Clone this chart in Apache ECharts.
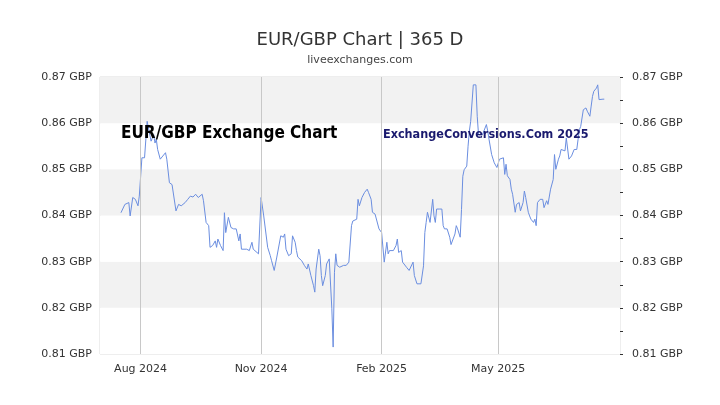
<!DOCTYPE html>
<html><head><meta charset="utf-8">
<script src="https://cdn.jsdelivr.net/npm/echarts@6/dist/echarts.min.js"></script>
<style>html,body{margin:0;padding:0;background:#fff}#c{width:720px;height:405px}</style>
</head><body><div id="c"></div>
<script>
// day offsets from 2024-07-17
const days = [0,3,6,7,9,11,13,14,16,18,20,21,23,25,26,27,28,30,31,34,35,37,39,40,42,44,46,49,51,53,55,57,59,60,62,63,65,67,68,70,72,73,74,76,78,79,80,82,84,86,88,90,91,92,93,96,98,100,101,102,105,107,109,110,112,114,115,117,119,
120,122,124,125,126,128,130,131,133,134,135,138,140,142,143,144,145,147,148,149,151,152,153,154,156,157,159,161,162,163,164,165,167,170,172,174,176,177,180,181,182,184,185,186,188,189,191,192,194,195,197,199,200,201,203,204,205,208,210,211,212,214,215,218,219,220,223,224,226,229,231,232,233,234,236,238,239,240,241,243,245,246,247,249,251,
252,253,255,256,257,259,260,261,262,264,265,266,267,269,271,272,273,276,279,280,281,283,284,285,287,288,289,290,292,293,294,295,297,298,299,301,302,304,305,306,307,308,309,311,312,313,315,316,317,318,320,321,322,323,325,326,327,328,330,331,332,334,335,336,337,339,340,341,342,344,345,346,348,349,350,351,353,355,356,358,359,360,361,363,364,365,368,369];
const rates = [.8406,.8424,.8428,.8399,.8439,.8435,.8421,.8442,.8525,.8525,.8604,.8601,.8561,.8575,.8557,.8565,.8543,.8522,.8525,.8536,.8522,.8471,.8467,.8464,.8410,.8424,.8421,.8428,.8435,.8442,.8440,.8446,.8439,.8440,.8446,.8432,.8385,.8378,.8331,.8335,.8345,.8331,.8349,.8335,.8324,.8406,.8363,.8396,.8374,.8371,.8371,.8345,.8360,.8327,.8324,.8327,.8324,.8342,.8327,.8331,.8317,.8439,.8399,.8399,.8331,.8313,.8302,.8281,.8310,
.8313,.8356,.8353,.8360,.8327,.8313,.8317,.8356,.8342,.8324,.8310,.8302,.8292,.8284,.8295,.8292,.8270,.8248,.8234,.8284,.8327,.8313,.8270,.8248,.8270,.8295,.8306,.8198,.8115,.8277,.8317,.8292,.8288,.8292,.8292,.8299,.8378,.8388,.8392,.8435,.8421,.8439,.8439,.8450,.8457,.8450,.8435,.8407,.8403,.8399,.8371,.8363,.8360,.8299,.8342,.8317,.8324,.8324,.8335,.8349,.8320,.8324,.8299,.8288,.8288,.8281,.8299,.8270,.8252,.8252,.8291,.8363,.8385,.8407,.8385,.8435,.8399,.8385,.8414,.8414,.8414,.8378,.8371,.8371,.8353,
.8337,.8335,.8360,.8378,.8371,.8353,.8413,.8485,.8499,.8507,.8550,.8583,.8604,.8683,.8683,.8615,.8575,.8575,.8597,.8583,.8565,.8532,.8536,.8514,.8504,.8500,.8522,.8518,.8525,.8489,.8511,.8486,.8478,.8457,.8446,.8407,.8424,.8428,.8410,.8414,.8428,.8453,.8439,.8407,.8399,.8392,.8385,.8392,.8378,.8428,.8435,.8439,.8435,.8417,.8432,.8424,.8428,.8457,.8478,.8532,.8500,.8522,.8529,.8543,.8547,.8540,.8568,.8568,.8522,.8529,.8529,.8543,.8543,.8565,.8586,.8593,.8629,.8633,.8626,.8615,.8637,.8658,.8669,.8676,.8683,.8651,.8652,.8652];
const monthTicks = [15,107,199,288];
const monthLabels = ['Aug 2024','Nov 2024','Feb 2025','May 2025'];

const chart = echarts.init(document.getElementById('c'));
const yCommon = {
  type:'value', min:0.81, max:0.87, interval:0.01,
  axisLine:{show:false}, axisTick:{show:false},
  axisLabel:{color:'#333', fontSize:11, fontFamily:'DejaVu Sans', formatter:v=>v.toFixed(2)+' GBP'}
};
chart.setOption({
  animation:false,
  title:{text:'EUR/GBP Chart | 365 D', subtext:'liveexchanges.com', left:'center', top:26,
    textStyle:{fontSize:18, fontWeight:'normal', color:'#333', fontFamily:'DejaVu Sans'},
    subtextStyle:{fontSize:11, color:'#444', fontFamily:'DejaVu Sans'}, itemGap:6},
  grid:{left:100, right:100, top:77, bottom:51, show:true, borderColor:'#ddd', borderWidth:1},
  xAxis:{type:'value', min:-16, max:381,
    axisLine:{show:false}, axisTick:{show:false}, splitLine:{show:false},
    axisLabel:{customValues:monthTicks, color:'#333', fontSize:11, fontFamily:'DejaVu Sans', margin:10,
      formatter:v=>monthLabels[monthTicks.indexOf(v)]||''}},
  yAxis:[
    Object.assign({}, yCommon, {position:'left', splitLine:{show:false},
      splitArea:{show:true, areaStyle:{color:['#ffffff','#f2f2f2']}}}),
    Object.assign({}, yCommon, {position:'right', splitLine:{show:false}, axisLabel:Object.assign({}, yCommon.axisLabel,{margin:12}),
      axisTick:{show:true, length:3, lineStyle:{color:'#333'}},
      minorTick:{show:true, splitNumber:2, length:3, lineStyle:{color:'#333'}}})
  ],
  graphic:[
    {type:'text', left:121, top:125, z:100, style:{text:'EUR/GBP Exchange Chart', fill:'#000', fontSize:17, fontWeight:'bold', fontFamily:'Liberation Sans Narrow, DejaVu Sans Condensed, sans-serif'}},
    {type:'text', left:383, top:128, z:100, style:{text:'ExchangeConversions.Com 2025', fill:'#1a1a6e', fontSize:12.5, fontWeight:'bold', fontFamily:'Liberation Sans Narrow, DejaVu Sans Condensed, sans-serif'}}
  ],
  series:[{type:'line', data:days.map((d,i)=>[d,rates[i]]), showSymbol:false, symbol:'none',
    lineStyle:{color:'#6b8ee0', width:1},
    markLine:{silent:true, symbol:'none', label:{show:false}, lineStyle:{color:'#c8c8c8', width:1, type:'solid'},
      data:monthTicks.map(t=>({xAxis:t}))}, z:3}]
});
</script></body></html>
